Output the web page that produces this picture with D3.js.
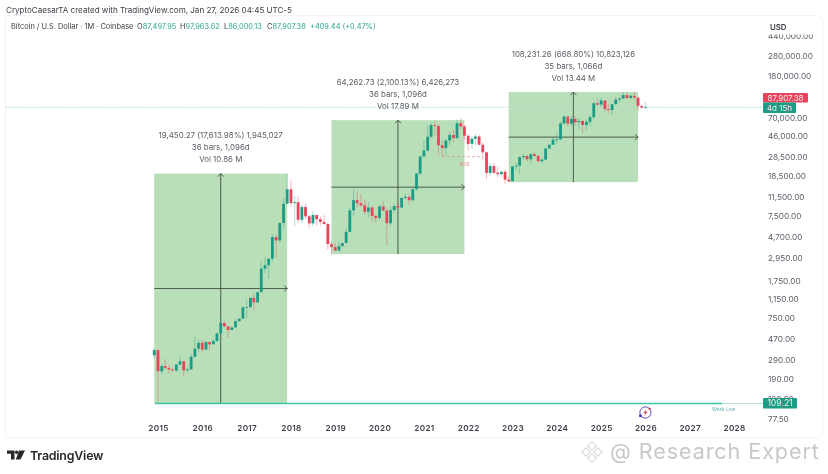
<!DOCTYPE html>
<html>
<head>
<meta charset="utf-8">
<script src="https://cdn.jsdelivr.net/npm/d3@7"></script>
<style>
  html, body { margin: 0; padding: 0; background: #fff; }
  svg { display: block; filter: blur(0.35px); }
  text { font-family: Inter, "Open Sans", sans-serif; }
</style>
</head>
<body>
<div id="chart"></div>
<script>
// monthly candles, Dec 2014 to Jan 2026
const firstMonth = "2014-12-01";
const opens = [325,
  365,226,254,244,236,230,263,284,231,236,314,377,
  430,369,437,416,448,531,673,624,575,609,700,742,
  960,965,1190,1070,1350,2300,2480,2870,4700,4340,6450,9950,
  13800,10100,10300,6920,9240,7490,6390,7730,7010,6600,6300,4000,
  3740,3460,3820,4100,5270,8560,10800,10080,9600,8300,9150,7560,
  7190,9390,8530,6410,8640,9450,9140,11350,11650,10780,13800,19700,
  29000,33100,45200,58800,57700,37300,35000,41500,47100,43800,61300,57000,
  46200,38500,43200,45500,37700,31800,19950,23300,20050,19400,20500,17170,
  16530,23130,23480,28470,29270,27220,30470,29230,25940,26970,34660,37720,
  42280,42580,61180,71290,60670,67530,62770,64620,58970,63330,70290,96400,
  93430,102430,84350,82550,94170,104640,107170,115760,108250,114050,109600,90400,
  87498];
const closes = [365,
  226,254,244,236,230,263,284,231,236,314,377,430,
  369,437,416,448,531,673,624,575,609,700,742,960,
  965,1190,1070,1350,2300,2480,2870,4700,4340,6450,9950,13800,
  10100,10300,6920,9240,7490,6390,7730,7010,6600,6300,4000,3740,
  3460,3820,4100,5270,8560,10800,10080,9600,8300,9150,7560,7190,
  9390,8530,6410,8640,9450,9140,11350,11650,10780,13800,19700,29000,
  33100,45200,58800,57700,37300,35000,41500,47100,43800,61300,57000,46200,
  38500,43200,45500,37700,31800,19950,23300,20050,19400,20500,17170,16530,
  23130,23480,28470,29270,27220,30470,29230,25940,26970,34660,37720,42280,
  42580,61180,71290,60670,67530,62770,64620,58970,63330,70290,96400,93430,
  102430,84350,82550,94170,104640,107170,115760,108250,114050,109600,90400,87500,
  87907];
const highs = [380,
  378,268,300,262,247,268,316,286,245,335,495,465,
  465,448,440,470,550,780,700,625,610,740,755,980,
  1150,1200,1300,1350,2700,2980,2900,4980,5000,6470,11400,19890,
  17200,11800,11700,9760,10000,7800,8450,7740,7420,7690,6570,4240,
  4100,4200,4110,5640,9090,13800,13150,12350,10900,10370,9530,7750,
  9550,10500,9190,9460,10070,10380,11450,12470,12080,14100,19900,29300,
  41950,58350,61800,64900,59600,41300,42400,50500,52900,67000,69000,59100,
  47990,45800,48200,47400,40000,32400,24700,25200,22800,20990,21450,18370,
  23300,25250,29190,30990,29830,31430,31800,30200,28100,35150,38420,44700,
  48970,64000,73800,72800,71950,72000,70000,65100,66500,73620,99800,108260,
  109350,102500,95000,95000,111900,110600,123200,124500,117900,126200,110000,94500,
  97964];
const lows = [300,
  109.21,212,235,215,228,221,258,199,225,236,306,350,
  350,365,365,416,440,530,610,480,570,605,695,742,
  750,940,890,1075,1350,2080,1830,2710,2950,4100,5600,10900,
  9220,6000,6430,6430,7040,5780,6070,6000,6100,6200,3550,3140,
  3350,3370,3780,4100,5270,7470,9100,9300,7700,7300,6520,6410,
  6850,8450,3850,6150,8100,8900,9000,10950,9860,10370,13250,18900,
  28150,32300,43000,46900,30000,28800,29300,37300,39600,43300,53300,42000,
  32900,34300,37200,37500,26700,17590,18780,19550,18150,18130,15480,16260,
  16490,21350,19550,26940,25880,24750,28850,25330,25000,26550,34100,37600,
  38500,41850,59100,56500,56500,58400,53700,49000,52500,57700,66800,90700,
  89250,78200,76600,74400,93300,98200,105100,107300,107200,103500,80600,84400,
  86000];

const yearTicks = [2015,2016,2017,2018,2019,2020,2021,2022,2023,2024,2025,2026,2027,2028];
const priceTicks = [440000,280000,180000,70000,46000,28500,18500,11500,7500,4700,2950,1750,1150,750,470,290,190,120,77.5];

// measure tools: start, end, low, high and the three lines written above each
const boxStarts = ["2014-12-01","2018-12-01","2022-12-01"];
const boxEnds = ["2017-12-01","2021-12-01","2025-11-01"];
const boxLows = [109.21,3190,16200];
const boxHighs = [19660,65700,124000];
const boxTexts = [
  ["19,450.27 (17,613.98%) 1,945,027","36 bars, 1,096d","Vol 10.86 M"],
  ["64,262.73 (2,100.13%) 6,426,273","36 bars, 1,096d","Vol 17.89 M"],
  ["108,231.26 (668.80%) 10,823,126","35 bars, 1,066d","Vol 13.44 M"]
];

const lastPrice = 87907.38;
const weakLow = 109.21;
const bosPrice = 28800;
const bosRange = ["2021-06-01","2022-05-01"];

const width = 828;
const height = 474;
const green = "#1b9c85";
const red = "#e8455c";
const textGrey = "#5a5d66";

const parse = d3.utcParse("%Y-%m-%d");
const months = d3.utcMonth.range(parse(firstMonth), d3.utcMonth.offset(parse(firstMonth), opens.length));

const x = d3.scaleUtc()
  .domain([parse("2015-01-01"), parse("2028-01-01")])
  .range([158, 734]);
const y = d3.scaleLog()
  .domain([190, 280000])
  .range([379, 56]);

const svg = d3.select("#chart").append("svg")
  .attr("width", width)
  .attr("height", height);

svg.append("rect")
  .attr("x", 5.5).attr("y", 15.5).attr("width", 817).attr("height", 422).attr("rx", 5)
  .attr("fill", "#fff").attr("stroke", "#f3f3f3");

// header
svg.append("text").attr("x", 6).attr("y", 13)
  .attr("font-size", 8.05).attr("fill", "#3b3e46")
  .text("CryptoCaesarTA created with TradingView.com, Jan 27, 2026 04:45 UTC-5");

const legend = svg.append("g").attr("font-size", 7.4).attr("fill", "#3b3e46");
legend.append("text").attr("x", 11).attr("y", 29).text("Bitcoin / U.S. Dollar · 1M · Coinbase");
[["O","87,497.95",137],["H","97,963.62",180],["L","86,000.13",224],["C","87,907.38",267]].forEach(d => {
  const t = legend.append("text").attr("x", d[2]).attr("y", 29);
  t.append("tspan").text(d[0]);
  t.append("tspan").attr("fill", "#2aa58e").text(d[1]);
});
legend.append("text").attr("x", 310).attr("y", 29).attr("fill", "#2aa58e").text("+409.44 (+0.47%)");

// boxes
const boxes = boxStarts.map((s, i) => ({
  x0: x(parse(s)), x1: x(parse(boxEnds[i])), y0: y(boxHighs[i]), y1: y(boxLows[i]), lines: boxTexts[i]
}));

svg.append("g").selectAll("rect").data(boxes).join("rect")
  .attr("x", d => d.x0).attr("y", d => d.y0)
  .attr("width", d => d.x1 - d.x0).attr("height", d => d.y1 - d.y0)
  .attr("fill", "#b9dfb8");

// last price line goes under the candles
svg.append("line")
  .attr("x1", 5).attr("x2", 763).attr("y1", y(lastPrice)).attr("y2", y(lastPrice))
  .attr("stroke", "#a9dcd2").attr("stroke-width", 0.8).attr("stroke-dasharray", "1.5 1");

// crosshairs with arrow heads
const cross = svg.append("g").attr("fill", "none").attr("stroke", "#3f4d40").attr("stroke-width", 0.9);
boxes.forEach(b => {
  const mx = (b.x0 + b.x1) / 2;
  const my = (b.y0 + b.y1) / 2;
  cross.append("line").attr("x1", b.x0).attr("x2", b.x1).attr("y1", my).attr("y2", my);
  cross.append("line").attr("x1", mx).attr("x2", mx).attr("y1", b.y0).attr("y2", b.y1);
  cross.append("path").attr("d", d3.line()([[mx - 3, b.y0 + 3], [mx, b.y0], [mx + 3, b.y0 + 3]]));
  cross.append("path").attr("d", d3.line()([[b.x1 - 3, my - 3], [b.x1, my], [b.x1 - 3, my + 3]]));
});

// box labels
const boxLabels = svg.append("g").attr("font-size", 7.9).attr("fill", textGrey).attr("text-anchor", "middle");
boxes.forEach(b => {
  const mx = (b.x0 + b.x1) / 2;
  b.lines.forEach((t, i) => {
    boxLabels.append("text")
      .attr("x", mx)
      .attr("y", b.y0 - 35.5 + i * 12)
      .text(t);
  });
});

// candles
const candles = months.map((m, i) => ({ m, o: opens[i], h: highs[i], l: lows[i], c: closes[i] }));
const colour = d => d.c >= d.o ? green : red;

svg.append("g").selectAll("line").data(candles).join("line")
  .attr("x1", d => x(d.m)).attr("x2", d => x(d.m))
  .attr("y1", d => y(d.h)).attr("y2", d => y(d.l))
  .attr("stroke", colour).attr("stroke-opacity", 0.55).attr("stroke-width", 0.7);

svg.append("g").selectAll("rect").data(candles).join("rect")
  .attr("x", d => x(d.m) - 1.4)
  .attr("width", 2.8)
  .attr("y", d => Math.min(y(d.o), y(d.c)))
  .attr("height", d => Math.max(0.8, Math.abs(y(d.o) - y(d.c))))
  .attr("fill", colour);

// BOS line
svg.append("line")
  .attr("x1", x(parse(bosRange[0]))).attr("x2", x(parse(bosRange[1])))
  .attr("y1", y(bosPrice)).attr("y2", y(bosPrice))
  .attr("stroke", "#e08a92").attr("stroke-width", 0.8).attr("stroke-dasharray", "2.5 2.5");
svg.append("text")
  .attr("x", x(parse("2021-12-01"))).attr("y", y(bosPrice) + 9.5)
  .attr("text-anchor", "middle").attr("font-size", 4.8).attr("fill", "#d98a8f")
  .text("BOS");

// weak low line
svg.append("line")
  .attr("x1", 155).attr("x2", 722).attr("y1", y(weakLow)).attr("y2", y(weakLow))
  .attr("stroke", "#3cc4a4").attr("stroke-width", 1.6);
svg.append("line")
  .attr("x1", 722).attr("x2", 763).attr("y1", y(weakLow)).attr("y2", y(weakLow))
  .attr("stroke", "#8ed8c8").attr("stroke-width", 0.7);
svg.append("text").attr("x", 712).attr("y", 411)
  .attr("font-size", 4.8).attr("fill", "#5fb3a8").text("Weak Low");

// axes
const xAxis = d3.axisBottom(x)
  .tickValues(yearTicks.map(yr => new Date(Date.UTC(yr, 0, 1))))
  .tickFormat(d3.utcFormat("%Y"))
  .tickSize(0);
const xg = svg.append("g").attr("transform", "translate(0,425)").call(xAxis);
xg.select(".domain").remove();
xg.selectAll("text")
  .attr("y", 0).attr("dy", "0.71em")
  .attr("font-size", 8.2).attr("font-weight", 600).attr("letter-spacing", 0.3)
  .attr("font-family", "Inter, sans-serif").attr("fill", "#3b3e46");

const yAxis = d3.axisRight(y)
  .tickValues(priceTicks)
  .tickFormat(d => d < 1000 ? d3.format(".2f")(d) : d3.format(",.2f")(d))
  .tickSize(0);
const yg = svg.append("g").attr("transform", "translate(768,0)").call(yAxis);
yg.select(".domain").remove();
yg.selectAll("text")
  .attr("x", 0).attr("font-size", 8.2)
  .attr("font-family", "Inter, sans-serif").attr("fill", "#5a5d66");

// USD header sits on top of the clipped first tick
svg.append("rect").attr("x", 765).attr("y", 18).attr("width", 53).attr("height", 16.5)
  .attr("fill", "#fff");
svg.append("text").attr("x", 770).attr("y", 29.5)
  .attr("font-size", 7.8).attr("font-weight", 600).attr("fill", "#3b3e46").text("USD");

// price tags
function tag(label, x0, y0, w, h, fill, size) {
  svg.append("rect").attr("x", x0).attr("y", y0).attr("width", w).attr("height", h).attr("rx", 1).attr("fill", fill);
  svg.append("text").attr("x", x0 + w / 2).attr("y", y0 + h / 2 + 3)
    .attr("text-anchor", "middle").attr("font-size", size).attr("fill", "#fbe9ea").text(label);
}
tag("87,907.38", 763, 93, 45, 9.5, red, 8);
tag("4d 15h", 763, 102.5, 33, 10.5, green, 8);
tag(d3.format(".2f")(weakLow), 763, 398, 34, 10.5, green, 8.6);

// event icon
const icon = svg.append("g").attr("transform", `translate(${x(parse("2026-01-01"))},412.5)`);
icon.append("circle").attr("r", 5.6).attr("fill", "none").attr("stroke", "#5a46a8").attr("stroke-width", 1);
icon.append("path").attr("d", "M1,-3.5L-2,0.8H0L-1,3.5L2,-0.8H0Z").attr("fill", "#d8344f");
icon.append("circle").attr("cx", -5).attr("cy", 3.2).attr("r", 1.5).attr("fill", "#4a37c9");
icon.append("circle").attr("cx", 4.2).attr("cy", -3.6).attr("r", 1.1).attr("fill", "#d8344f");

// TradingView logo
const logo = svg.append("g").attr("fill", "#2a2a2e");
logo.append("path").attr("d", "M7,450.5H14.5V459.5H11V453.8H7Z");
logo.append("circle").attr("cx", 16.6).attr("cy", 452.3).attr("r", 1.7);
logo.append("path").attr("d", "M19,450.5H25L20.5,459.5H15.8Z");
svg.append("text").attr("x", 30).attr("y", 460)
  .attr("font-size", 12.4).attr("font-weight", 600).attr("fill", "#2a2a2e")
  .attr("letter-spacing", -0.2).text("TradingView");

// watermark
const mark = svg.append("g");
[[586,452],[592,446],[598,452],[592,458]].forEach(p => {
  mark.append("rect").attr("x", p[0] - 3).attr("y", p[1] - 3).attr("width", 6).attr("height", 6)
    .attr("transform", `rotate(45 ${p[0]} ${p[1]})`).attr("fill", "none").attr("stroke", "#d4d4d4");
});
svg.append("text").attr("x", 610).attr("y", 459)
  .attr("font-family", "'Open Sans', sans-serif")
  .attr("font-size", 21.5).attr("fill", "#c8c8c8").attr("letter-spacing", 0.95)
  .text("@ Research Expert");
</script>
</body>
</html>
